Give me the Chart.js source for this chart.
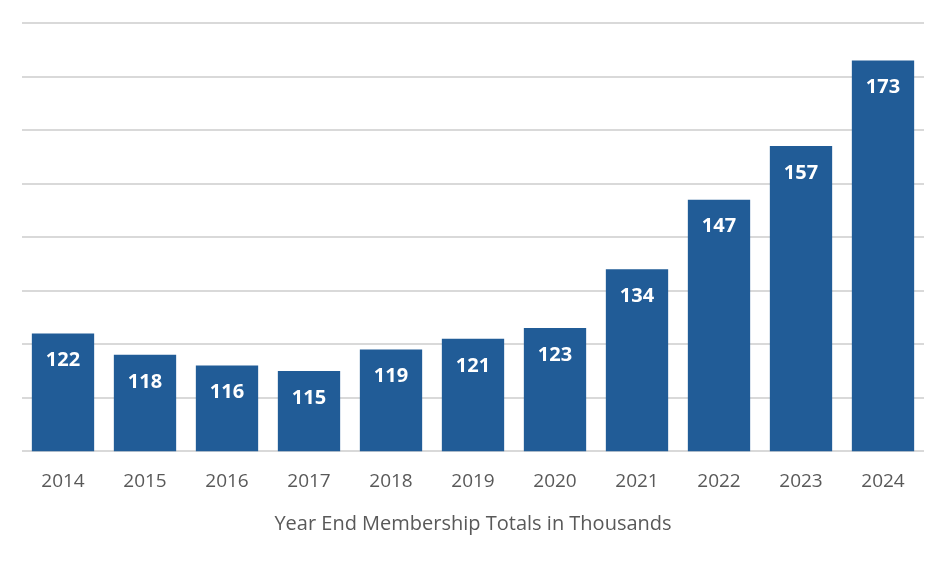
<!DOCTYPE html>
<html>
<head>
<meta charset="utf-8">
<script src="https://cdn.jsdelivr.net/npm/chart.js@4"></script>
<style>
  html, body { margin: 0; padding: 0; background: #fff; }
  #wrap { width: 950px; height: 564px; }
</style>
</head>
<body>
<div id="wrap"><canvas id="c"></canvas></div>
<script>
const years = ['2014', '2015', '2016', '2017', '2018', '2019', '2020', '2021', '2022', '2023', '2024'];
const members = [122, 118, 116, 115, 119, 121, 123, 134, 147, 157, 173];
const axisTitle = 'Year End Membership Totals in Thousands';

// draw value labels inside the top of each bar
const barLabels = {
  id: 'barLabels',
  afterDatasetsDraw(chart) {
    const ctx = chart.ctx;
    const meta = chart.getDatasetMeta(0);
    ctx.save();
    ctx.fillStyle = '#ffffff';
    ctx.font = 'bold 20px "Open Sans", Roboto, sans-serif';
    ctx.textAlign = 'center';
    ctx.textBaseline = 'middle';
    meta.data.forEach((bar, i) => {
      ctx.fillText(String(members[i]), bar.x, bar.y + 27);
    });
    ctx.restore();
  }
};

new Chart(document.getElementById('c'), {
  type: 'bar',
  data: {
    labels: years,
    datasets: [{
      data: members,
      backgroundColor: '#215c97',
      barPercentage: 0.76,
      categoryPercentage: 1
    }]
  },
  options: {
    responsive: true,
    maintainAspectRatio: false,
    animation: false,
    layout: { padding: { left: 22, right: 26, top: 23, bottom: 24 } },
    scales: {
      x: {
        grid: { display: false },
        border: { display: false },
        ticks: { color: '#595959', font: { size: 19, family: '"Open Sans", Roboto, sans-serif' }, padding: 11 },
        title: { display: true, text: axisTitle, color: '#595959', font: { size: 20, family: '"Open Sans", Roboto, sans-serif' }, padding: { top: 8 } }
      },
      y: {
        min: 100,
        max: 180,
        ticks: { stepSize: 10, display: false },
        border: { display: false },
        grid: { color: '#d9d9d9', lineWidth: 2, drawTicks: false }
      }
    },
    plugins: {
      legend: { display: false },
      tooltip: { enabled: false }
    }
  },
  plugins: [barLabels]
});
</script>
</body>
</html>
